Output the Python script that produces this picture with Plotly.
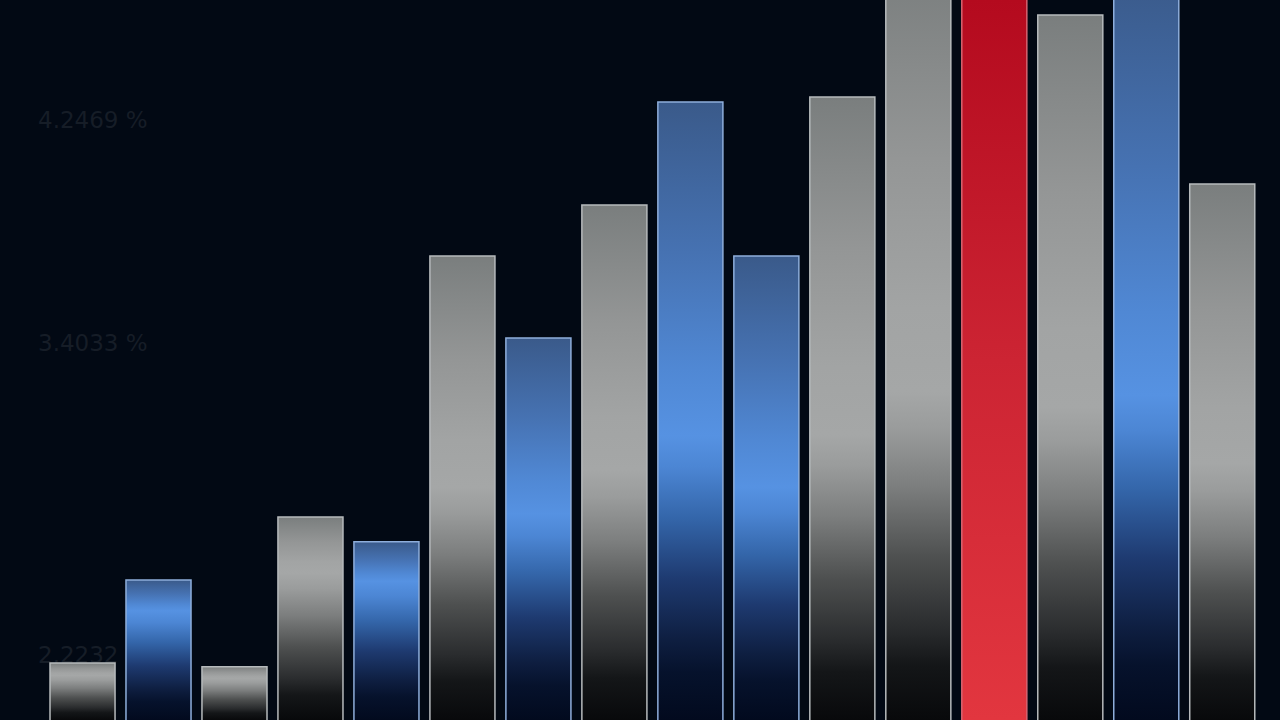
import plotly.graph_objects as go

# ---- data ----
categories = list(range(16))
values = [2.193, 2.507, 2.178, 2.745, 2.651, 3.732, 3.422, 3.925,
          4.315, 3.732, 4.334, 4.82, 4.95, 4.644, 4.78, 4.005]
groups = ["gray", "blue", "gray", "gray", "blue", "gray", "blue", "gray",
          "blue", "blue", "gray", "gray", "red", "gray", "blue", "gray"]
tick_vals = [2.2232, 3.4033, 4.2469]
tick_text = ["2.2232 %", "3.4033 %", "4.2469 %"]

# ---- styling ----
Y_MIN, Y_MAX = 1.977, 4.701
PX = (Y_MAX - Y_MIN) / 720.0      # data units per screen pixel
HALF_W = 0.428
BG = "#020914"

palette = {
    "gray": dict(line="#b6babc",
                 low=["#08090b", "#141618", "#2a2c2e", "#4e5050", "#7c7e7e", "#9a9c9c", "#a5a7a7"],
                 high=["#a2a4a4", "#949696", "#7a7e7e"]),
    "blue": dict(line="#8eaedb",
                 low=["#020a1e", "#06122c", "#0e1e40", "#1e3a70", "#3466aa", "#4c86d4", "#5692e2"],
                 high=["#5088d4", "#4672b2", "#3a5a8a"]),
}
RED_SCALE = [[0.0, "#e2363f"], [0.5, "#cc2433"], [1.0, "#b40a1e"]]
RED_LINE = "#d86470"


def bar_scale(group, v):
    p = palette[group]
    h = (v - Y_MIN) / PX
    bright_px = min(h * 0.78, 80 + 0.33 * h)
    fb = bright_px / h
    fd = fb * 0.28
    lo = p["low"]
    hi = p["high"]
    pos_low = [0.0, fd * 0.6, fd, fd + 0.3 * (fb - fd), fd + 0.6 * (fb - fd),
               fd + 0.85 * (fb - fd), fb]
    pos_high = [fb + 0.2 * (1 - fb), fb + 0.55 * (1 - fb), 1.0]
    return [[a, b] for a, b in zip(pos_low, lo)] + [[a, b] for a, b in zip(pos_high, hi)]


fig = go.Figure()
for c, v, grp in zip(categories, values, groups):
    xs = [c - HALF_W, c - HALF_W, c + HALF_W, c + HALF_W, c - HALF_W]
    ys = [0, v, v, 0, 0]
    if grp == "red":
        scale, lc, stop = RED_SCALE, RED_LINE, Y_MAX
    else:
        scale, lc, stop = bar_scale(grp, v), palette[grp]["line"], v
    fig.add_trace(go.Scatter(
        x=xs, y=ys, mode="lines", fill="toself",
        line=dict(color=lc, width=1.5),
        fillgradient=dict(type="vertical", colorscale=scale,
                          start=Y_MIN, stop=stop),
        hoverinfo="skip", showlegend=False,
    ))

fig.update_layout(
    width=1280, height=720,
    margin=dict(l=0, r=0, t=0, b=0),
    paper_bgcolor=BG, plot_bgcolor=BG,
    xaxis=dict(visible=False, range=[-1.086, 15.76]),
    yaxis=dict(range=[Y_MIN, Y_MAX], showgrid=False, zeroline=False,
               showline=False, tickvals=tick_vals, ticktext=tick_text,
               ticklabelposition="inside", ticklabelstandoff=35,
               layer="below traces",
               tickfont=dict(family="DejaVu Sans", size=23, color="#161d27")),
)

fig.write_html("out.html",
               config={"displayModeBar": False},
               post_script="document.body.style.margin='0';"
                           "document.body.style.overflow='hidden';"
                           "document.body.style.background='#020914';")
